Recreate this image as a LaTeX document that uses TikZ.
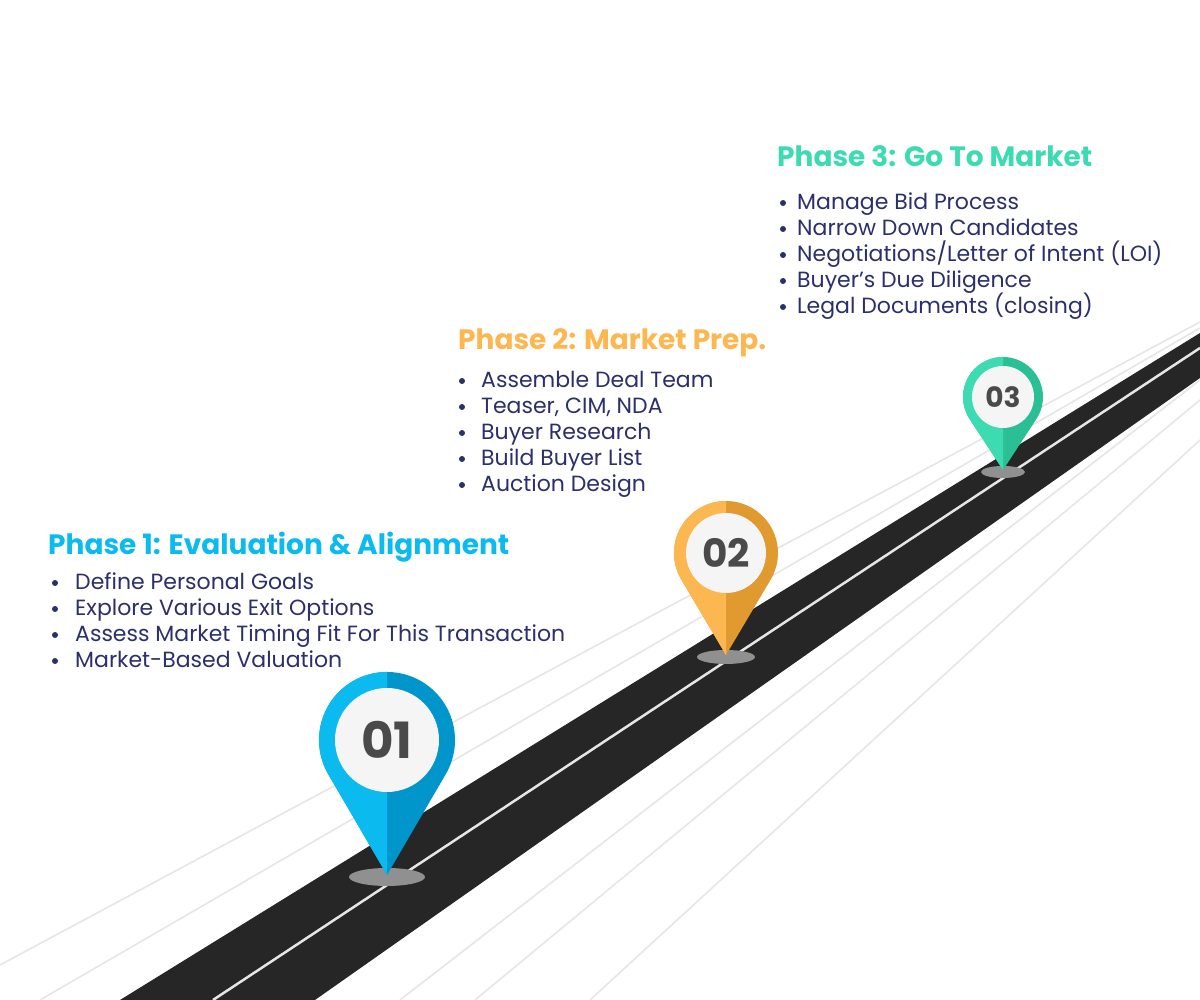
\documentclass[tikz,border=0pt]{standalone}
\usepackage{fontspec}
\usetikzlibrary{calc}
\setmainfont{Poppins}
\begin{document}
\begin{tikzpicture}[x=1pt,y=1pt,
  ttl/.style={anchor=base west,font=\bfseries\fontsize{28}{32}\selectfont,inner sep=0},
  itm/.style={anchor=base west,font=\fontsize{22}{26}\selectfont,text=navy,inner sep=0},
  dot/.style={circle,fill=navy,inner sep=0,minimum size=6pt},
  gl/.style={draw=lgray,line width=1.6pt},
  num/.style={font=\bfseries,text=numc}]
\definecolor{navy}{HTML}{2B2F6B}
\definecolor{lgray}{HTML}{E6E6E6}
\definecolor{road}{HTML}{262626}
\definecolor{numc}{HTML}{4A4A4A}
\definecolor{inner}{HTML}{F5F5F5}
\definecolor{shad}{HTML}{909090}
\definecolor{bA}{HTML}{0BBBEF}\definecolor{bB}{HTML}{0096CC}
\definecolor{oA}{HTML}{FDB750}\definecolor{oB}{HTML}{E09A30}
\definecolor{gA}{HTML}{3DDBB1}\definecolor{gB}{HTML}{2BBF95}
\useasboundingbox[fill=white] (0,0) rectangle (1200,1000);
\begin{scope}
\clip (0,0) rectangle (1200,1000);
% gray lines
\draw[gl] (0,35) -- (1200,678);
\draw[gl] (40,0) -- (1200,672);
\draw[gl] (400,0) -- (1200,620);
\draw[gl] (475,0) -- (1200,600);
\draw[gl] (590,0) -- (1200,560);
% road
\fill[road] (120,0) -- (1200,667) -- (1200,622) -- (315,0) -- cycle;
\draw[lgray,line width=2.5pt] (213,0) -- (1200,652);
\end{scope}
% pins
\foreach \cx/\cy/\R/\d/\r/\rx/\ry/\ca/\cb/\txt/\fs/\nm in
  {387/260/68/135/52/38/9/bA/bB/01/50/one,
   726/447/52/102/40/29/7/oA/oB/02/39/two,
   1003/603/40/73/31/22/6/gA/gB/03/28/three}{
  \pgfmathsetmacro\al{acos(\R/\d)}
  \fill[shad] (\cx,\cy-\d-2) ellipse ({\rx} and {\ry});
  \coordinate (tip\nm) at (\cx,\cy-\d);
  \fill[\cb] (tip\nm) -- ($(\cx,\cy)+(-90+\al:\R)$) arc[start angle=-90+\al,end angle=270-\al,radius=\R] -- cycle;
  \begin{scope}
    \clip (\cx-\R-2,\cy-\d-2) rectangle (\cx,\cy+\R+2);
    \fill[\ca] (tip\nm) -- ($(\cx,\cy)+(-90+\al:\R)$) arc[start angle=-90+\al,end angle=270-\al,radius=\R] -- cycle;
  \end{scope}
  \fill[inner] (\cx,\cy) circle (\r);
  \node[num,font=\bfseries\fontsize{\fs}{\fs}\selectfont] (n\nm) at (\cx,\cy) {\txt};
}
% Phase 1
\node[ttl,text=bA] (t1) at (48,445) {Phase 1: Evaluation \& Alignment};
\foreach \t [count=\i] in {Define Personal Goals,Explore Various Exit Options,Assess Market Timing Fit For This Transaction,Market-Based Valuation}{
  \node[dot] (d1\i) at (55,417-26*\i+26) {};
  \node[itm] (i1\i) at (75,410-26*\i+26) {\t};}
% Phase 2
\node[ttl,text=oA] (t2) at (458,650) {Phase 2: Market Prep.};
\foreach \t [count=\i] in {Assemble Deal Team,{Teaser, CIM, NDA},Buyer Research,Build Buyer List,Auction Design}{
  \node[dot] (d2\i) at (462,619-26*\i+26) {};
  \node[itm] (i2\i) at (481,612-26*\i+26) {\t};}
% Phase 3
\node[ttl,text=gA] (t3) at (777,833) {Phase 3: Go To Market};
\foreach \t [count=\i] in {Manage Bid Process,Narrow Down Candidates,Negotiations/Letter of Intent (LOI),Buyer’s Due Diligence,Legal Documents (closing)}{
  \node[dot] (d3\i) at (783,797-26*\i+26) {};
  \node[itm] (i3\i) at (797,790-26*\i+26) {\t};}
\end{tikzpicture}
\end{document}
